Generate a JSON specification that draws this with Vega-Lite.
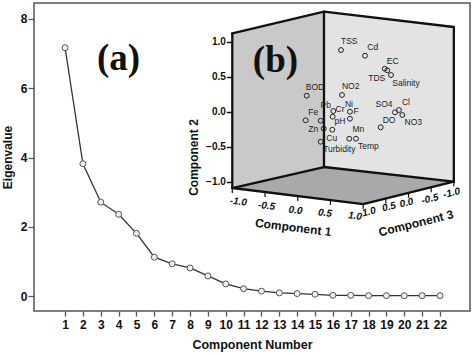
{
  "$schema": "https://vega.github.io/schema/vega-lite/v6.json",
  "width": 436,
  "height": 308,
  "autosize": {"type": "none"},
  "padding": {"left": 34, "top": 3, "right": 4, "bottom": 44},
  "background": "white",
  "config": {
    "font": "Liberation Sans",
    "view": {"stroke": "#555", "strokeWidth": 1.5}
  },
  "datasets": {
    "eig": [
      {"comp": 1, "eig": 7.17}, {"comp": 2, "eig": 3.82}, {"comp": 3, "eig": 2.71},
      {"comp": 4, "eig": 2.36}, {"comp": 5, "eig": 1.81}, {"comp": 6, "eig": 1.12},
      {"comp": 7, "eig": 0.93}, {"comp": 8, "eig": 0.81}, {"comp": 9, "eig": 0.58},
      {"comp": 10, "eig": 0.35}, {"comp": 11, "eig": 0.21}, {"comp": 12, "eig": 0.14},
      {"comp": 13, "eig": 0.09}, {"comp": 14, "eig": 0.07}, {"comp": 15, "eig": 0.05},
      {"comp": 16, "eig": 0.02}, {"comp": 17, "eig": 0.02}, {"comp": 18, "eig": 0.01},
      {"comp": 19, "eig": 0.01}, {"comp": 20, "eig": 0.01}, {"comp": 21, "eig": 0.01},
      {"comp": 22, "eig": 0.01}
    ],
    "panel_a": [{"comp": 4.0, "eig": 6.53, "t": "(a)"}],
    "panel_b": [{"u": -0.383, "v": 0.567, "t": "(b)"}],
    "faces": [
      {"face": "left", "u": -1, "v": 1.12, "v2": -1.09},
      {"face": "left", "u": 0.31, "v": 1.43, "v2": -0.79},
      {"face": "right", "u": 0.31, "v": 1.43, "v2": -0.79},
      {"face": "right", "u": 2.165, "v": 1.21, "v2": -1.0},
      {"face": "floor", "u": -1, "v": -1.09, "v2": -1.09},
      {"face": "floor", "u": 0.31, "v": -0.79, "v2": -1.251},
      {"face": "floor", "u": 0.87, "v": -0.853, "v2": -1.32},
      {"face": "floor", "u": 2.165, "v": -1.0, "v2": -1.0}
    ],
    "edges": [
      {"seg": "top", "ord": 1, "u": -1, "v": 1.12},
      {"seg": "top", "ord": 2, "u": 0.31, "v": 1.43},
      {"seg": "top", "ord": 3, "u": 2.165, "v": 1.21},
      {"seg": "left", "ord": 1, "u": -1, "v": 1.12},
      {"seg": "left", "ord": 2, "u": -1, "v": -1.09},
      {"seg": "mid", "ord": 1, "u": 0.31, "v": 1.43},
      {"seg": "mid", "ord": 2, "u": 0.31, "v": -0.79},
      {"seg": "right", "ord": 1, "u": 2.165, "v": 1.21},
      {"seg": "right", "ord": 2, "u": 2.165, "v": -1.0},
      {"seg": "back", "ord": 1, "u": -1, "v": -1.09},
      {"seg": "back", "ord": 2, "u": 0.31, "v": -0.79},
      {"seg": "back", "ord": 3, "u": 2.165, "v": -1.0},
      {"seg": "front", "ord": 1, "u": -1, "v": -1.09},
      {"seg": "front", "ord": 2, "u": 0.87, "v": -1.32},
      {"seg": "front", "ord": 3, "u": 2.165, "v": -1.0}
    ],
    "loadings": [
      {"var": "TSS", "u": 0.553, "v": 0.881},
      {"var": "Cd", "u": 0.896, "v": 0.8},
      {"var": "TDS", "u": 1.177, "v": 0.614},
      {"var": "EC", "u": 1.214, "v": 0.591},
      {"var": "Salinity", "u": 1.267, "v": 0.524},
      {"var": "BOD", "u": 0.063, "v": 0.229},
      {"var": "NO2", "u": 0.567, "v": 0.239},
      {"var": "Pb", "u": 0.443, "v": 0.01},
      {"var": "Cr", "u": 0.434, "v": -0.071},
      {"var": "Ni", "u": 0.681, "v": 0.0},
      {"var": "F", "u": 0.681, "v": -0.1},
      {"var": "Fe", "u": 0.049, "v": -0.123},
      {"var": "pH", "u": 0.263, "v": -0.129},
      {"var": "Zn", "u": 0.306, "v": -0.243},
      {"var": "Cu", "u": 0.429, "v": -0.257},
      {"var": "Turbidity", "u": 0.263, "v": -0.429},
      {"var": "Mn", "u": 0.671, "v": -0.386},
      {"var": "Temp", "u": 0.767, "v": -0.386},
      {"var": "SO4", "u": 1.324, "v": -0.009},
      {"var": "Cl", "u": 1.381, "v": 0.024},
      {"var": "NO3", "u": 1.429, "v": -0.047},
      {"var": "DO", "u": 1.12, "v": -0.223}
    ],
    "labels": [
      {"var": "TSS", "u": 0.671, "v": 1.01},
      {"var": "Cd", "u": 1.006, "v": 0.92},
      {"var": "EC", "u": 1.291, "v": 0.729},
      {"var": "TDS", "u": 1.063, "v": 0.486},
      {"var": "Salinity", "u": 1.481, "v": 0.406},
      {"var": "BOD", "u": 0.181, "v": 0.349},
      {"var": "NO2", "u": 0.691, "v": 0.367},
      {"var": "Pb", "u": 0.334, "v": 0.096},
      {"var": "Cr", "u": 0.539, "v": 0.043},
      {"var": "Ni", "u": 0.667, "v": 0.11},
      {"var": "F", "u": 0.767, "v": 0.01},
      {"var": "Fe", "u": 0.157, "v": -0.009},
      {"var": "pH", "u": 0.539, "v": -0.129},
      {"var": "Zn", "u": 0.157, "v": -0.247},
      {"var": "Cu", "u": 0.42, "v": -0.38},
      {"var": "Turbidity", "u": 0.529, "v": -0.533},
      {"var": "Mn", "u": 0.8, "v": -0.251},
      {"var": "Temp", "u": 0.943, "v": -0.494},
      {"var": "SO4", "u": 1.167, "v": 0.11},
      {"var": "Cl", "u": 1.481, "v": 0.134},
      {"var": "NO3", "u": 1.586, "v": -0.143},
      {"var": "DO", "u": 1.239, "v": -0.114}
    ],
    "ticks": [
      {"axis": "c1", "u": -1, "v": -1.09, "u2": -1, "v2": -1.16},
      {"axis": "c1", "u": -0.5325, "v": -1.1475, "u2": -0.5325, "v2": -1.2175},
      {"axis": "c1", "u": -0.065, "v": -1.205, "u2": -0.065, "v2": -1.275},
      {"axis": "c1", "u": 0.4025, "v": -1.2625, "u2": 0.4025, "v2": -1.3325},
      {"axis": "c1", "u": 0.87, "v": -1.32, "u2": 0.87, "v2": -1.39},
      {"axis": "c3", "u": 1.19375, "v": -1.24, "u2": 1.19375, "v2": -1.31},
      {"axis": "c3", "u": 1.5175, "v": -1.16, "u2": 1.5175, "v2": -1.23},
      {"axis": "c3", "u": 1.84125, "v": -1.08, "u2": 1.84125, "v2": -1.15},
      {"axis": "c3", "u": 2.165, "v": -1.0, "u2": 2.165, "v2": -1.07}
    ],
    "ticklabels": [
      {"axis": "c1", "lab": "-1.0", "u": -0.914, "v": -1.286},
      {"axis": "c1", "lab": "-0.5", "u": -0.509, "v": -1.347},
      {"axis": "c1", "lab": "0.0", "u": -0.097, "v": -1.409},
      {"axis": "c1", "lab": "0.5", "u": 0.324, "v": -1.447},
      {"axis": "c1", "lab": "1.0", "u": 0.753, "v": -1.49},
      {"axis": "c3", "lab": "1.0", "u": 0.953, "v": -1.433},
      {"axis": "c3", "lab": "0.5", "u": 1.239, "v": -1.361},
      {"axis": "c3", "lab": "0.0", "u": 1.489, "v": -1.304},
      {"axis": "c3", "lab": "-0.5", "u": 1.824, "v": -1.247},
      {"axis": "c3", "lab": "-1.0", "u": 2.134, "v": -1.161}
    ],
    "titles3d": [
      {"axis": "c1", "lab": "Component 1", "u": -0.129, "v": -1.654},
      {"axis": "c3", "lab": "Component 3", "u": 1.624, "v": -1.594}
    ]
  },
  "layer": [
    {
      "data": {"name": "eig"},
      "encoding": {
        "x": {
          "field": "comp", "type": "quantitative",
          "scale": {"domain": [-0.74, 23.68], "nice": false, "zero": false},
          "axis": {
            "values": [1, 2, 3, 4, 5, 6, 7, 8, 9, 10, 11, 12, 13, 14, 15, 16, 17, 18, 19, 20, 21, 22],
            "title": "Component Number", "domain": false, "grid": false,
            "tickSize": 5, "tickColor": "#555", "tickWidth": 1.3,
            "labelFontSize": 12, "labelFontWeight": "bold", "labelColor": "#111",
            "labelPadding": 3, "labelFlush": false, "labelOverlap": false, "labelAngle": 0,
            "titleFontSize": 12.5, "titleFontWeight": "bold", "titleColor": "#111", "titlePadding": 8
          }
        },
        "y": {
          "field": "eig", "type": "quantitative",
          "scale": {"domain": [-0.433, 8.462], "nice": false, "zero": false},
          "axis": {
            "values": [0, 2, 4, 6, 8], "title": "Eigenvalue", "domain": false, "grid": false,
            "tickSize": 6, "tickColor": "#555", "tickWidth": 1.3,
            "labelFontSize": 12, "labelFontWeight": "bold", "labelColor": "#111",
            "labelPadding": 1, "labelFlush": false, "labelOverlap": false,
            "titleFontSize": 12, "titleFontWeight": "bold", "titleColor": "#111", "titlePadding": 6
          }
        }
      },
      "layer": [
        {"mark": {"type": "line", "color": "#333", "strokeWidth": 1.3}},
        {"mark": {"type": "point", "shape": "circle", "filled": true, "fill": "#eeeeee", "stroke": "#555", "strokeWidth": 1, "size": 36, "opacity": 1}},
        {
          "data": {"name": "panel_a"},
          "mark": {"type": "text", "font": "Liberation Serif", "fontWeight": "bold", "fontSize": 37, "align": "center", "baseline": "alphabetic", "color": "#111"},
          "encoding": {"text": {"field": "t"}}
        }
      ]
    },
    {
      "encoding": {
        "x": {
          "field": "u", "type": "quantitative",
          "scale": {"domain": [-3.833, 2.396], "nice": false, "zero": false},
          "axis": null
        },
        "y": {
          "field": "v", "type": "quantitative",
          "scale": {"domain": [-2.847, 1.553], "nice": false, "zero": false},
          "axis": {
            "orient": "left", "offset": -198.3, "values": [-1, -0.5, 0, 0.5, 1], "format": ".1f",
            "title": "Component 2", "domain": false, "grid": false,
            "tickSize": 6, "tickColor": "#111", "tickWidth": 1.5,
            "labelFontSize": 10, "labelFontWeight": "bold", "labelColor": "#111", "labelPadding": 1,
            "labelFlush": false, "labelOverlap": false,
            "titleFontSize": 12, "titleFontWeight": "bold", "titleColor": "#111", "titlePadding": 5
          }
        }
      },
      "layer": [
        {
          "data": {"name": "faces"},
          "mark": {"type": "area", "opacity": 1, "interpolate": "linear"},
          "encoding": {
            "y2": {"field": "v2"},
            "color": {"field": "face", "type": "nominal", "scale": {"domain": ["left", "right", "floor"], "range": ["#c9c9c9", "#e3e3e3", "#a9a9a9"]}, "legend": null}
          }
        },
        {
          "data": {"name": "edges"},
          "mark": {"type": "line", "color": "#111", "strokeWidth": 2.3, "strokeCap": "round", "strokeJoin": "round"},
          "encoding": {"detail": {"field": "seg"}, "order": {"field": "ord"}}
        },
        {
          "data": {"name": "ticks"},
          "mark": {"type": "rule", "color": "#111", "strokeWidth": 1.2},
          "encoding": {"x2": {"field": "u2"}, "y2": {"field": "v2"}}
        },
        {
          "data": {"name": "ticklabels"},
          "transform": [{"filter": "datum.axis === 'c1'"}],
          "mark": {"type": "text", "fontSize": 10, "fontWeight": "bold", "fontStyle": "italic", "angle": 7, "align": "center", "baseline": "middle", "color": "#111"},
          "encoding": {"text": {"field": "lab"}}
        },
        {
          "data": {"name": "ticklabels"},
          "transform": [{"filter": "datum.axis === 'c3'"}],
          "mark": {"type": "text", "fontSize": 10, "fontWeight": "bold", "fontStyle": "italic", "angle": -14, "align": "center", "baseline": "middle", "color": "#111"},
          "encoding": {"text": {"field": "lab"}}
        },
        {
          "data": {"name": "titles3d"},
          "transform": [{"filter": "datum.axis === 'c1'"}],
          "mark": {"type": "text", "fontSize": 12, "fontWeight": "bold", "angle": 7, "align": "center", "baseline": "middle", "color": "#111"},
          "encoding": {"text": {"field": "lab"}}
        },
        {
          "data": {"name": "titles3d"},
          "transform": [{"filter": "datum.axis === 'c3'"}],
          "mark": {"type": "text", "fontSize": 12, "fontWeight": "bold", "angle": -14, "align": "center", "baseline": "middle", "color": "#111"},
          "encoding": {"text": {"field": "lab"}}
        },
        {
          "data": {"name": "loadings"},
          "mark": {"type": "point", "shape": "circle", "filled": false, "color": "#222", "size": 24, "strokeWidth": 1, "opacity": 1}
        },
        {
          "data": {"name": "labels"},
          "mark": {"type": "text", "fontSize": 8.5, "align": "center", "baseline": "middle", "color": "#222"},
          "encoding": {"text": {"field": "var"}}
        },
        {
          "data": {"name": "panel_b"},
          "mark": {"type": "text", "font": "Liberation Serif", "fontWeight": "bold", "fontSize": 37, "align": "center", "baseline": "alphabetic", "color": "#111"},
          "encoding": {"text": {"field": "t"}}
        }
      ]
    }
  ],
  "resolve": {"scale": {"x": "independent", "y": "independent"}}
}
